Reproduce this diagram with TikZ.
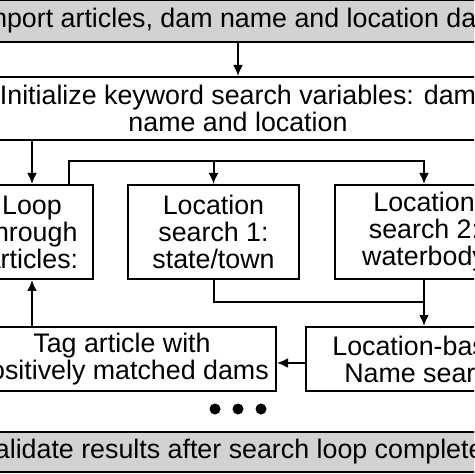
\documentclass[tikz,border=0pt]{standalone}
\usepackage{fontspec}
\setmainfont{Liberation Sans}
\usetikzlibrary{arrows.meta,positioning,calc}

\begin{document}
\begin{tikzpicture}[
x=0.5pt,y=-0.5pt,
stepbox/.style={
  draw,
  line width=1pt,
  align=center,
  inner sep=0pt,
  font=\fontsize{13.4}{13.5}\selectfont
  },
greybox/.style={
  stepbox,
  fill=gray!35
  },
dot/.style={
  circle,
  fill,
  inner sep=0pt,
  minimum size=5.5pt
  },
>={Latex[length=5.5pt,width=5pt]},
line width=1pt
]
\clip (0,0) rectangle (474,474);
\node[greybox,minimum width=300pt,minimum height=21pt] (import) at (238,21)
  {Import articles, dam name and location data};
\node[stepbox,minimum width=280pt,minimum height=31.5pt] (init) at (238,108.5)
  {Initialize keyword search variables: dam\\name and location};
\node[stepbox,minimum width=61pt,minimum height=47pt] (loop) at (32,232)
  {Loop\\through\\articles:};
\node[stepbox,minimum width=85.5pt,minimum height=47pt] (loc1) at (213.5,232)
  {Location\\search 1:\\state/town};
\node[stepbox,minimum width=89pt,minimum height=47pt] (loc2) at (424,232)
  {Location\\search 2:\\waterbody};
\node[stepbox,minimum width=154pt,minimum height=32pt] (tag) at (122,359)
  {Tag article with\\positively matched dams};
\node[stepbox,minimum width=118pt,minimum height=32pt] (name) at (424,359)
  {Location-based\\Name search};
\foreach \dx [count=\di] in {215,238,261}
  \node[dot] (dot\di) at (\dx,409) {};
\node[greybox,minimum width=290pt,minimum height=20pt] (valid) at (238,452)
  {Validate results after search loop completes};

\coordinate (fork) at (213.5,161);
\coordinate (join) at (424,302);
\draw[->] (import) -- (init);
\draw[->] (init.south -| loop.north) -- (loop.north);
\draw[->] ([xshift=-12.5pt]loop.north east) |- (fork) -| (loc2.north);
\draw[->] (fork) -- (loc1.north);
\draw (loc1.south) |- (join);
\draw[->] (loc2.south) -- (name.north);
\draw[->] ([yshift=-2pt]name.west) -- ([yshift=-2pt]name.west -| tag.east);
\draw[->] (tag.north -| loop.south) -- (loop.south);

\end{tikzpicture}
\end{document}
